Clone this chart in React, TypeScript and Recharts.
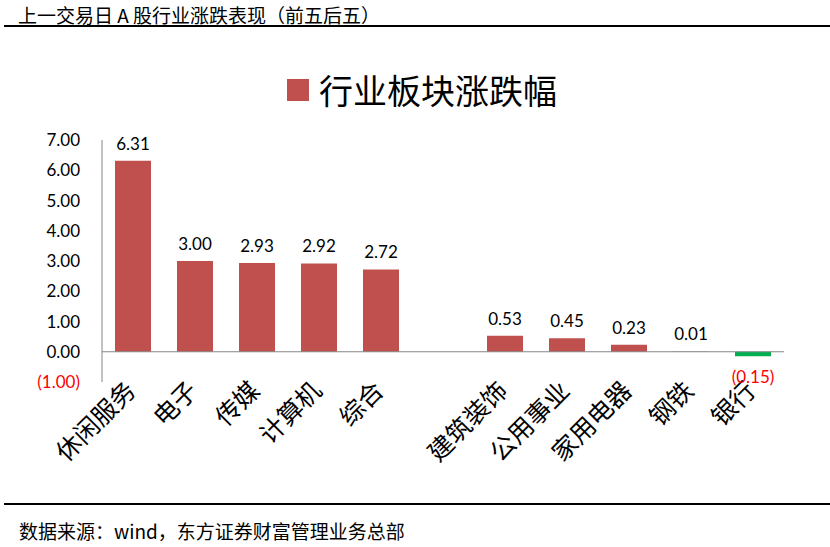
import { Bar, BarChart, Cell, LabelList, ReferenceLine, XAxis, YAxis } from 'recharts'

const categories = ['休闲服务', '电子', '传媒', '计算机', '综合', '', '建筑装饰', '公用事业', '家用电器', '钢铁', '银行']
const changes: Array<number | null> = [6.31, 3.0, 2.93, 2.92, 2.72, null, 0.53, 0.45, 0.23, 0.01, -0.15]
const yTicks = [-1, 0, 1, 2, 3, 4, 5, 6, 7]

const data = categories.map((name, i) => ({ name, value: changes[i] }))

const RED = '#C0504D'
const GREEN = '#00B050'
const AXIS = '#868686'
const NUM_FONT = 'Lato, "Liberation Sans", sans-serif'
const CJK_FONT = '"Noto Sans CJK SC", sans-serif'

function fmt(v: number) {
  return v < 0 ? `(${Math.abs(v).toFixed(2)})` : v.toFixed(2)
}

function YTick({ x, y, payload }: any) {
  const v = payload.value as number
  return (
    <text x={x} y={y} dy={6} textAnchor="end" fontSize={17} fontFamily={NUM_FONT} fill={v < 0 ? '#FF0000' : '#000'}>
      {fmt(v)}
    </text>
  )
}

function XTick({ x, y, payload }: any) {
  return (
    <text
      x={x}
      y={y}
      dy={6}
      textAnchor="end"
      transform={`rotate(-45, ${x}, ${y})`}
      fontSize={25}
      fontFamily={CJK_FONT}
      fill="#000"
    >
      {payload.value}
    </text>
  )
}

function ValueLabel({ x, y, width, height, value }: any) {
  if (value == null) return null
  const v = Number(value)
  const cx = Number(x) + Number(width) / 2
  const top = Math.min(Number(y), Number(y) + Number(height))
  const bottom = Math.max(Number(y), Number(y) + Number(height))
  const neg = v < 0
  return (
    <text
      x={cx}
      y={neg ? bottom + 27 : top - 11}
      textAnchor="middle"
      fontSize={17}
      fontFamily={NUM_FONT}
      fill={neg ? '#FF0000' : '#000'}
    >
      {fmt(v)}
    </text>
  )
}

export default function App() {
  return (
    <div style={{ position: 'absolute', left: 0, top: 0, width: 830, height: 547, background: '#fff' }}>
      <div style={{ position: 'absolute', left: 18, top: 1, fontFamily: CJK_FONT, fontSize: 19, color: '#000', whiteSpace: 'nowrap' }}>
        上一交易日 A 股行业涨跌表现（前五后五）
      </div>
      <div style={{ position: 'absolute', left: 4, top: 25, width: 826, height: 2, background: '#000' }} />

      <div style={{ position: 'absolute', left: 287, top: 66, display: 'flex', alignItems: 'center', whiteSpace: 'nowrap' }}>
        <span style={{ width: 22, height: 22, background: RED, display: 'inline-block', marginRight: 10 }} />
        <span style={{ fontFamily: CJK_FONT, fontSize: 34, color: '#000', lineHeight: '48px' }}>行业板块涨跌幅</span>
      </div>

      <div style={{ position: 'absolute', left: 0, top: 0 }}>
        <BarChart
          width={830}
          height={500}
          data={data}
          margin={{ top: 140, right: 46, bottom: 0, left: 0 }}
          barSize={36}
        >
          <YAxis
            width={102}
            domain={[-1, 7]}
            ticks={yTicks}
            interval={0}
            tickLine={false}
            tickMargin={16}
            axisLine={{ stroke: AXIS }}
            tick={<YTick />}
          />
          <XAxis
            dataKey="name"
            height={118}
            axisLine={false}
            tickLine={false}
            interval={0}
            tickMargin={0}
            tick={<XTick />}
          />
          <ReferenceLine y={0} stroke={AXIS} strokeWidth={1} />
          <Bar dataKey="value" isAnimationActive={false}>
            {data.map((d, i) => (
              <Cell key={i} fill={d.value != null && d.value < 0 ? GREEN : RED} />
            ))}
            <LabelList dataKey="value" content={<ValueLabel />} />
          </Bar>
        </BarChart>
      </div>

      <div style={{ position: 'absolute', left: 4, top: 503, width: 826, height: 2, background: '#000' }} />
      <div style={{ position: 'absolute', left: 19, top: 517, fontFamily: CJK_FONT, fontSize: 19, color: '#000', whiteSpace: 'nowrap' }}>
        数据来源：wind，东方证券财富管理业务总部
      </div>
    </div>
  )
}
